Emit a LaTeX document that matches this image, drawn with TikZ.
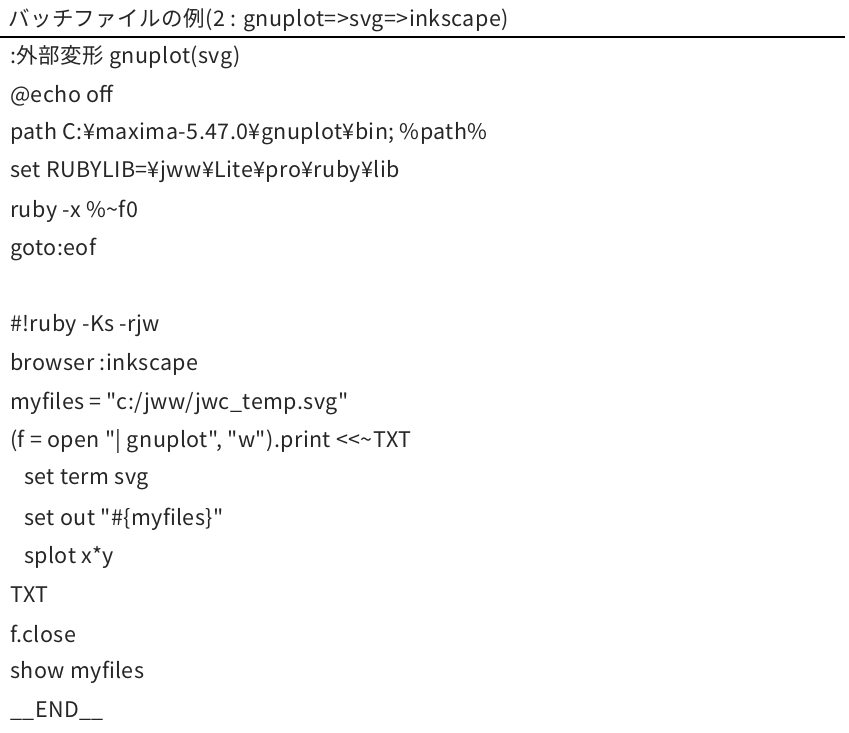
\documentclass[tikz,border=0pt]{standalone}
\usepackage{fontspec}
\setmainfont{Noto Sans CJK JP}[LetterSpace=2,Ligatures=TeXOff]
\newcommand{\qq}{\symbol{34}}
\begin{document}
\begin{tikzpicture}[x=1pt,y=-1pt,line/.style={anchor=west,inner sep=0pt,font=\fontsize{21.5}{21.5}\selectfont,text=black!85}]
\useasboundingbox (0,0) rectangle (849,732);
\node[line] (t) at (8,20) {バッチファイルの例(2 : gnuplot=>svg=>inkscape)};
\draw[line width=1.5pt] (0,37) -- (845,37);
\node[line] (l1) at (10,57) {:外部変形 gnuplot(svg)};
\node[line] (l2) at (10,96) {@echo off};
\node[line] (l3) at (10,134) {path C:¥maxima-5.47.0¥gnuplot¥bin; \%path\%};
\node[line] (l4) at (10,172) {set RUBYLIB=¥jww¥Lite¥pro¥ruby¥lib};
\node[line] (l5) at (10,211) {ruby -x \%\char`\~f0};
\node[line] (l6) at (10,249) {goto:eof};
\node[line] (l7) at (10,326) {\#!ruby -Ks -rjw};
\node[line] (l8) at (10,364) {browser :inkscape};
\node[line] (l9) at (10,403) {myfiles = \qq c:/jww/jwc\_temp.svg\qq};
\node[line] (l10) at (10,441) {(f = open \qq| gnuplot\qq, \qq w\qq).print {<}{<}\char`\~TXT};
\node[line] (l11) at (24,480) {set term svg};
\node[line] (l12) at (24,519) {set out \qq\#\{myfiles\}\qq};
\node[line] (l13) at (24,557) {splot x*y};
\node[line] (l14) at (10,595) {TXT};
\node[line] (l15) at (10,634) {f.close};
\node[line] (l16) at (10,672) {show myfiles};
\node[line] (l17) at (10,711) {\_\_END\_\_};
\end{tikzpicture}
\end{document}
